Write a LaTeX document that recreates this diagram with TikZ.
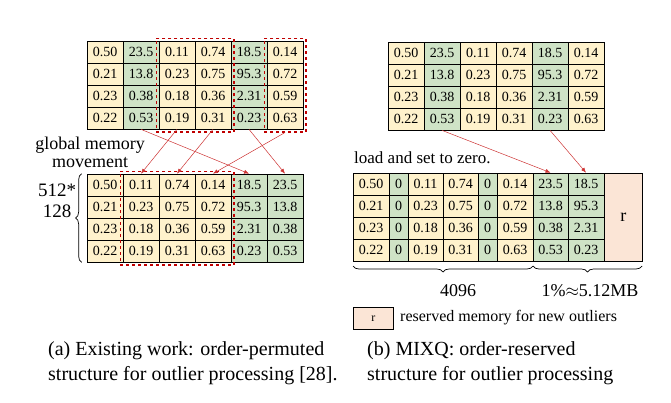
\documentclass[tikz,border=0pt]{standalone}
\usepackage{fontspec}
\setmainfont{Liberation Serif}
\usetikzlibrary{arrows.meta,fit,calc,decorations.pathreplacing}
\definecolor{yel}{HTML}{FFF2CC}
\definecolor{grn}{HTML}{CFE3C6}
\definecolor{rsv}{HTML}{FBE5D6}
\definecolor{dred}{HTML}{C00000}
\tikzset{cell/.style={draw, line width=0.7pt, minimum height=22pt, inner sep=0pt, font=\fontsize{14}{14}\selectfont},
  dashbox/.style={draw=dred, dashed, line width=1.3pt, inner sep=2.5pt},
  move/.style={draw=dred!80, line width=0.5pt, -{Latex[length=5pt,width=4pt]}}}
% name, top, column specs x/w/fill, rows of values
\newcommand\cellgrid[4]{%
  \foreach \row [count=\r] in {#4}{
    \foreach \xx/\ww/\ff [count=\c] in {#3}{
      \pgfmathsetmacro\val{{\row}[\c-1]}
      \node[cell, fill=\ff, minimum width=\ww*1pt] (#1-\r-\c) at (\xx+\ww/2, #2+\r*22-11) {\val};
    }}}
\begin{document}
\begin{tikzpicture}[x=1pt,y=-1pt]
  \useasboundingbox (0,0) rectangle (671,402);
  %left top
  \cellgrid{lt}{41}{87/36/yel,123/36/grn,159/36/yel,195/36/yel,231/36/grn,267/36/yel}
    {{"0.50","23.5","0.11","0.74","18.5","0.14"},{"0.21","13.8","0.23","0.75","95.3","0.72"},
     {"0.23","0.38","0.18","0.36","2.31","0.59"},{"0.22","0.53","0.19","0.31","0.23","0.63"}}
  %left bottom
  \cellgrid{lb}{174}{87/36/yel,123/36/yel,159/36/yel,195/36/yel,231/36/grn,267/36/grn}
    {{"0.50","0.11","0.74","0.14","18.5","23.5"},{"0.21","0.23","0.75","0.72","95.3","13.8"},
     {"0.23","0.18","0.36","0.59","2.31","0.38"},{"0.22","0.19","0.31","0.63","0.23","0.53"}}
  \node[dashbox, fit=(lt-1-3)(lt-4-4)] (boxA) {};
  \node[dashbox, fit=(lt-1-6)(lt-4-6)] (boxB) {};
  \node[dashbox, fit=(lb-1-2)(lb-4-4)] (boxC) {};
  \draw[move] (lt-4-3.south) -- (lb-1-2.north);
  \draw[move] (lt-4-4.south) -- (lb-1-3.north);
  \draw[move] (boxB.south) -- (lb-1-4.north);
  \draw[move] (lt-4-2.south) -- (lb-1-5.north);
  \draw[move] (lt-4-5.south) -- (lb-1-6.north);
  \node[font=\fontsize{18}{18}\selectfont, align=center, inner sep=0pt] (gmm) at (90,152) {global memory\\movement};
  \draw[line width=0.7pt, decorate, decoration={brace, amplitude=6pt}] ($(lb-4-1.south west)+(-5,0)$) -- ($(lb-1-1.north west)+(-5,0)$);
  \node[font=\fontsize{19}{21}\selectfont, align=center, inner sep=0pt] (dim) at (57,201) {512*\\128};
  %right top
  \cellgrid{rt}{42}{388/36/yel,424/36/grn,460/36/yel,496/36/yel,532/36/grn,568/36/yel}
    {{"0.50","23.5","0.11","0.74","18.5","0.14"},{"0.21","13.8","0.23","0.75","95.3","0.72"},
     {"0.23","0.38","0.18","0.36","2.31","0.59"},{"0.22","0.53","0.19","0.31","0.23","0.63"}}
  %right bottom
  \cellgrid{rb}{173}{353/36/yel,389/19/grn,408/35/yel,443/35/yel,478/19/grn,497/36/yel,533/35/grn,568/36/grn}
    {{"0.50","0","0.11","0.74","0","0.14","23.5","18.5"},{"0.21","0","0.23","0.75","0","0.72","13.8","95.3"},
     {"0.23","0","0.18","0.36","0","0.59","0.38","2.31"},{"0.22","0","0.19","0.31","0","0.63","0.53","0.23"}}
  \node[cell, fill=rsv, minimum width=38pt, minimum height=88pt, anchor=north west, font=\fontsize{18}{18}\selectfont] (res) at (604,173) {r};
  \draw[move] (rt-4-2.south) -- (rb-1-7.north);
  \draw[move] (rt-4-5.south) -- (rb-1-8.north);
  \node[anchor=west, font=\fontsize{17}{17}\selectfont, inner sep=0pt] (load) at (354,158) {load and set to zero.};
  \draw[line width=0.7pt, decorate, decoration={brace, amplitude=6pt}] (533,266) -- (353,266);
  \draw[line width=0.7pt, decorate, decoration={brace, amplitude=6pt}] (642,266) -- (533,266);
  \node[font=\fontsize{18}{18}\selectfont, inner sep=0pt] (n4096) at (458,291) {4096};
  \node[font=\fontsize{18}{18}\selectfont, inner sep=0pt] (pct) at (590,291) {1\%$\approx$5.12MB};
  \node[cell, fill=rsv, minimum width=40pt, anchor=north west, font=\fontsize{12}{12}\selectfont] (leg) at (353,307) {r};
  \node[anchor=west, font=\fontsize{16}{16}\selectfont, inner sep=0pt] (legt) at (400,318) {reserved memory for new outliers};
  %captions
  \node[anchor=north west, align=left, font=\fontsize{20}{25}\selectfont, inner sep=0pt] (capa) at (48,341) {(a) Existing work: order-permuted\\structure for outlier processing [28].};
  \node[anchor=north west, align=left, font=\fontsize{20}{25}\selectfont, inner sep=0pt] (capb) at (367,341) {(b) MIXQ: order-reserved\\structure for outlier processing};
\end{tikzpicture}
\end{document}
